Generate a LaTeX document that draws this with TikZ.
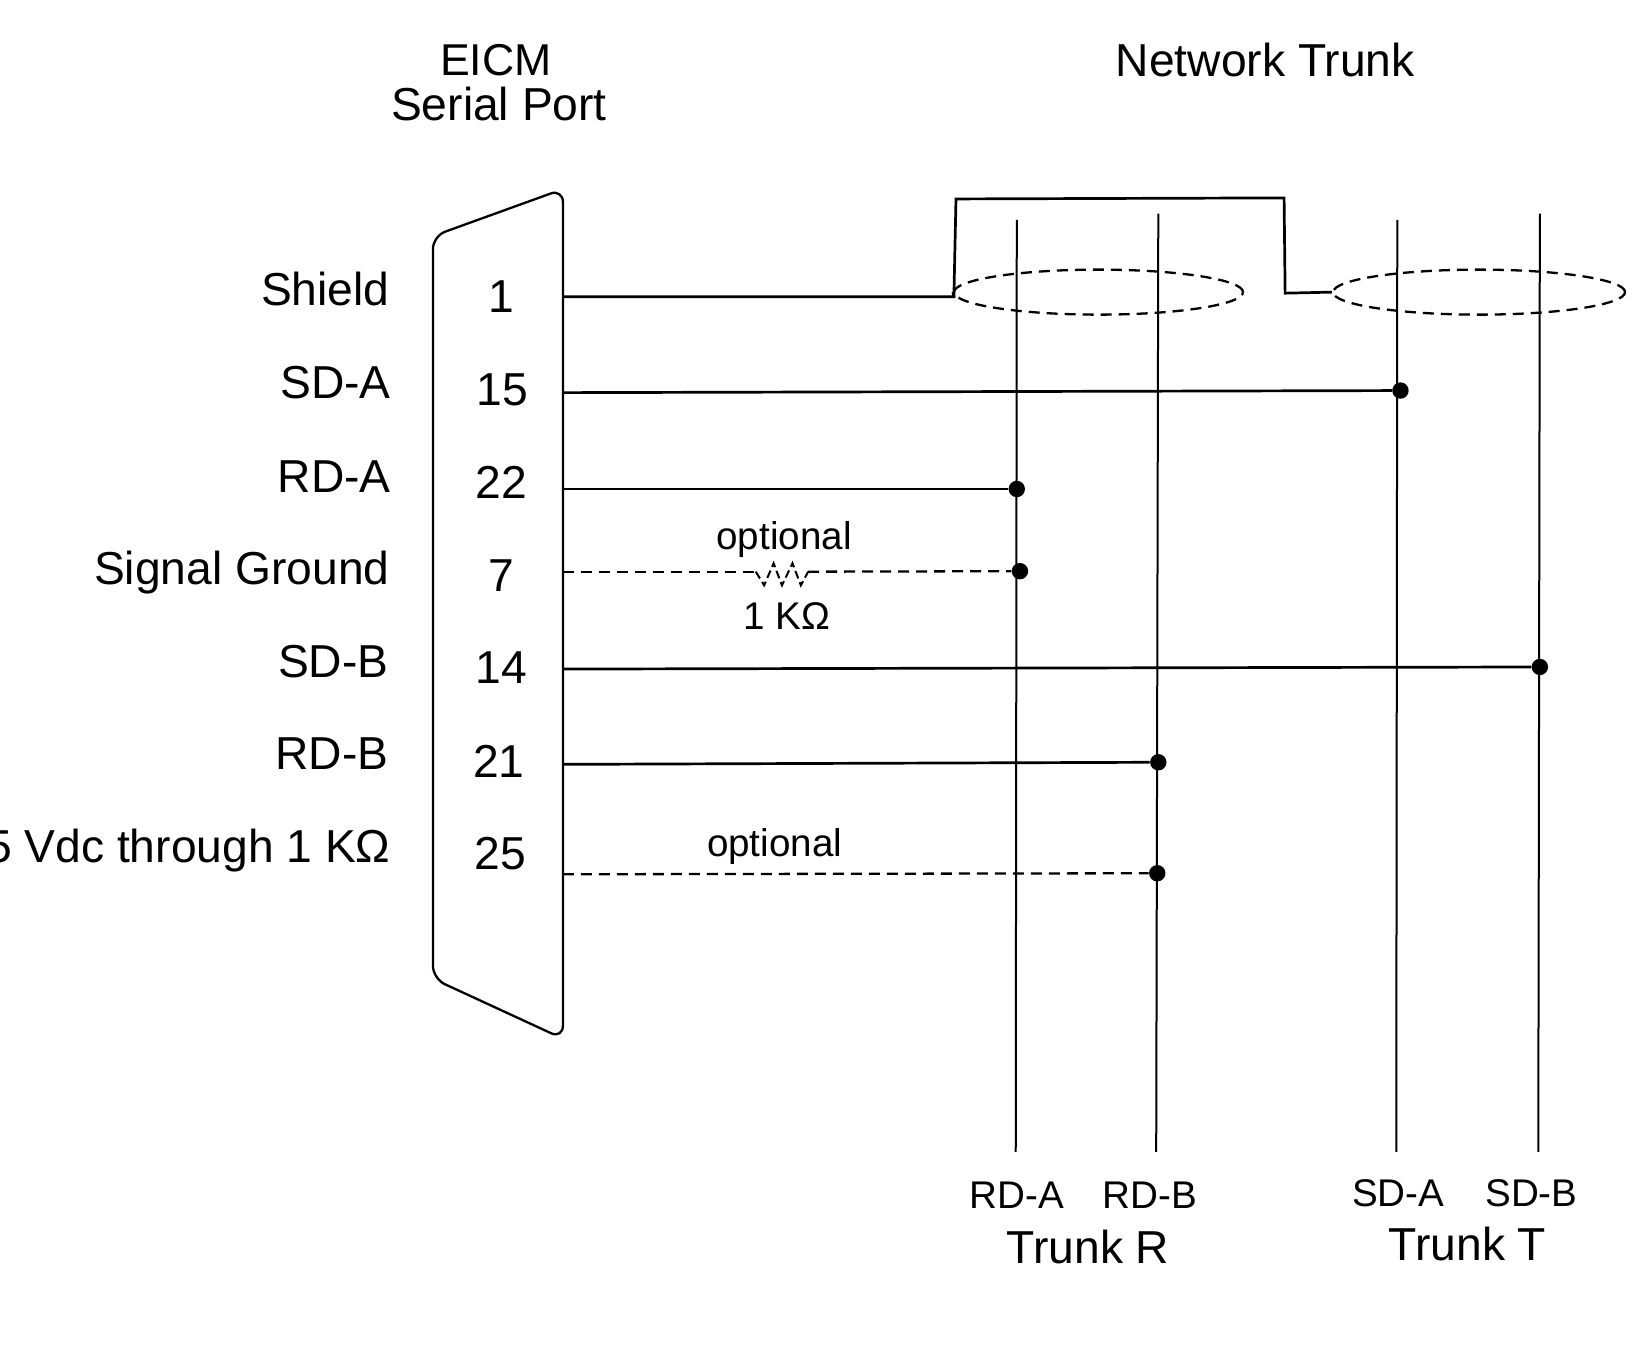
\documentclass[tikz,border=0pt]{standalone}
\usepackage{fontspec}
\usetikzlibrary{shapes.geometric}
\setmainfont{Liberation Sans}
\tikzset{
  wire/.style={line width=1.35pt,black},
  bus/.style={line width=1pt,black},
  dashwire/.style={line width=1.15pt,black,dash pattern=on 5.5pt off 3.5pt},
  shieldloop/.style={draw,ellipse,line width=1.15pt,dash pattern=on 5.5pt off 3.5pt,inner sep=0pt},
  big/.style={font=\fontsize{23.1}{23.1}\selectfont,inner sep=0pt},
  small/.style={font=\fontsize{19.3}{19.3}\selectfont,inner sep=0pt},
  pinlabel/.style={big,anchor=base east},
  pinnum/.style={big,anchor=base},
  head/.style={big,anchor=base},
  note/.style={small,anchor=base},
  dot/.style={circle,fill=black,draw=none,minimum size=8.2pt,inner sep=0pt},
}
\begin{document}
\begin{tikzpicture}[x=0.5241pt,y=-0.5235pt]
\useasboundingbox (0,0) rectangle (1567.4,1288.5);
% connector shell
\draw[line width=1.15pt,rounded corners=6.5pt] (413,225.5) -- (537,180.6) -- (537,992) -- (413,934.7) -- cycle;
\coordinate (p1) at (537,283.5);
\coordinate (p15) at (537,375);
\coordinate (p22) at (537,467);
\coordinate (p7) at (537,546);
\coordinate (p14) at (537,639);
\coordinate (p21) at (537,730);
\coordinate (p25) at (537,835);
% trunk verticals
\coordinate (ra) at (970,210); \coordinate (rae) at (969,1100);
\coordinate (rb) at (1105,204); \coordinate (rbe) at (1103,1100);
\coordinate (sa) at (1333,210); \coordinate (sae) at (1332,1100);
\coordinate (sb) at (1469,204); \coordinate (sbe) at (1467.5,1100);
\draw[bus] (ra) -- (rae);
\draw[bus] (rb) -- (rbe);
\draw[bus] (sa) -- (sae);
\draw[bus] (sb) -- (sbe);
% shield loops
\node[shieldloop,minimum width=144.5pt,minimum height=22.5pt] (e1) at (1048,279) {};
\node[shieldloop,minimum width=146pt,minimum height=22.5pt] (e2) at (1411,279) {};
% shield wiring
\coordinate (s0) at (910,283.5);
\coordinate (s1) at (912,190);
\coordinate (s2) at (1225,189);
\coordinate (s3) at (1226,280);
\draw[wire] (p1) -- (s0) -- (e1.west);
\draw[wire] (s0) -- (s1) -- (s2) -- (s3) -- (e2.west);
% dots
\node[dot] (d15) at (1336,373) {};
\node[dot] (d22) at (970,467) {};
\node[dot] (d7) at (973,545.5) {};
\node[dot] (d14) at (1469,637) {};
\node[dot] (d21) at (1105,728) {};
\node[dot] (d25) at (1104,834) {};
% signal wires
\draw[wire] (p15) -- (d15);
\draw[wire] (p22) -- (d22);
\draw[wire] (p14) -- (d14);
\draw[wire] (p21) -- (d21);
\draw[dashwire] (p25) -- (d25);
\coordinate (r1) at (721,546);
\coordinate (r2) at (771,546);
\draw[dashwire] (p7) -- (r1);
\draw[dashwire] (r2) -- (d7);
\draw[line width=1pt,dash pattern=on 4pt off 2pt] (r1) -- (729,559) -- (738,538) -- (746,559) -- (756,538) -- (764,559) -- (r2);
% headers
\node[head,font=\fontsize{22.3}{22.3}\selectfont] (h1) at (473,72) {EICM};
\node[head] (h2) at (476,115) {Serial Port};
\node[head] (h3) at (1207,73) {Network Trunk};
% pin labels
\node[pinlabel] (l1) at (372,292) {Shield};
\node[pinlabel] (l15) at (373,381) {SD-A};
\node[pinlabel] (l22) at (373,470) {RD-A};
\node[pinlabel] (l7) at (372,558) {Signal Ground};
\node[pinlabel] (l14) at (371,647) {SD-B};
\node[pinlabel] (l21) at (371,735) {RD-B};
\node[pinlabel] (l25) at (373,824) {5 Vdc through 1 KΩ};
% pin numbers
\node[pinnum] (n1) at (478,298) {1};
\node[pinnum] (n15) at (479,387) {15};
\node[pinnum] (n22) at (478,476) {22};
\node[pinnum] (n7) at (478,565) {7};
\node[pinnum] (n14) at (478,653) {14};
\node[pinnum] (n21) at (476,743) {21};
\node[pinnum] (n25) at (477,830) {25};
% notes
\node[note] (o1) at (748,525) {optional};
\node[note] (o2) at (751,601) {1 KΩ};
\node[note] (o3) at (739,818) {optional};
% trunk labels
\node[note] (t1) at (970,1154) {RD-A};
\node[note] (t2) at (1097,1154) {RD-B};
\node[note] (t3) at (1334,1152) {SD-A};
\node[note] (t4) at (1461,1152) {SD-B};
\node[head] (t5) at (1038,1207) {Trunk R};
\node[head] (t6) at (1400,1204) {Trunk T};
\end{tikzpicture}
\end{document}
